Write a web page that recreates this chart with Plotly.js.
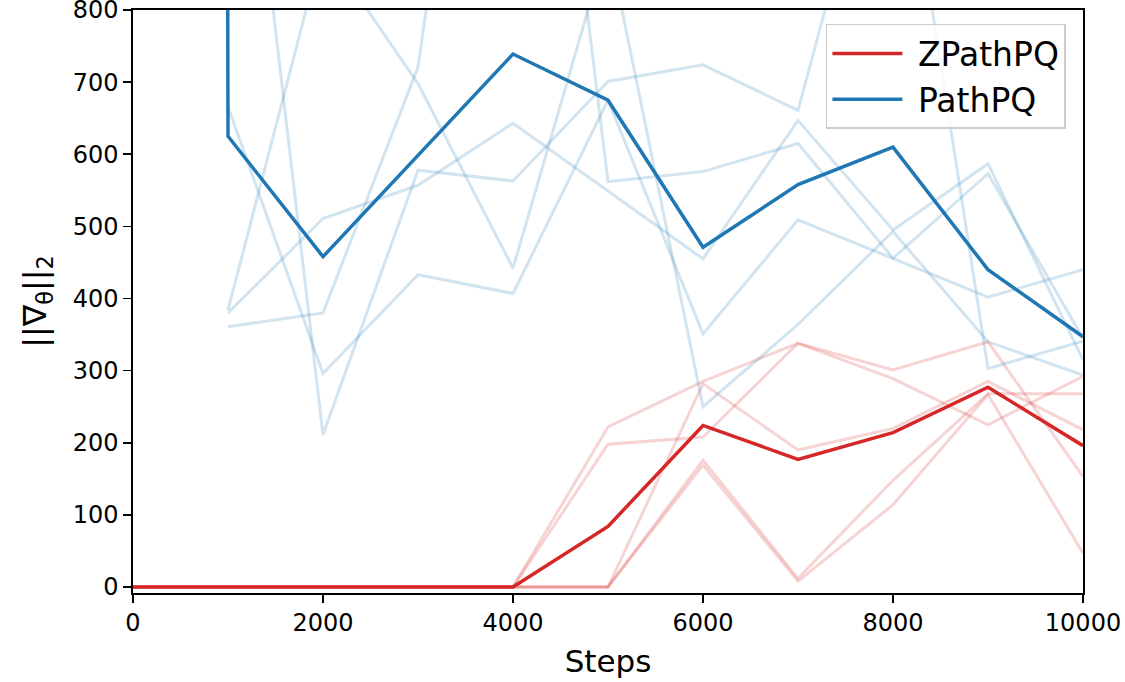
<!DOCTYPE html>
<html>
<head>
<meta charset="utf-8">
<script src="https://cdn.plot.ly/plotly-3.0.1.min.js"></script>
<style>
  html, body { margin: 0; padding: 0; background: #fff; }
  #chart { width: 1125px; height: 682px; }
</style>
</head>
<body>
<div id="chart"></div>
<script>
// training steps
const steps = [0, 1000, 2000, 3000, 4000, 5000, 6000, 7000, 8000, 9000, 10000];
const pathSteps = [1000, 2000, 3000, 4000, 5000, 6000, 7000, 8000, 9000, 10000];
const xTicks = [0, 2000, 4000, 6000, 8000, 10000];
const xTickText = ['0', '2000', '4000', '6000', '8000', '10000'];
const yTicks = [0, 100, 200, 300, 400, 500, 600, 700, 800];

// ZPathPQ: mean and the individual runs
const zpathMean = [0, 0, 0, 0, 0, 84, 224, 177, 214, 277, 196];
const zpathRun1 = [0, 0, 0, 0, 0, 222, 285, 338, 301, 340, 153];
const zpathRun2 = [0, 0, 0, 0, 0, 198, 208, 338, 289, 225, 292];
const zpathRun3 = [0, 0, 0, 0, 0, 0, 282, 190, 220, 285, 218];
const zpathRun4 = [0, 0, 0, 0, 0, 0, 176, 12, 148, 268, 268];
const zpathRun5 = [0, 0, 0, 0, 0, 0, 169, 8, 114, 267, 47];

// PathPQ: mean (huge at step 0) and the individual runs (from step 1000)
const pathMean = [60000, 625, 458, 598, 739, 675, 471, 558, 610, 440, 347];
const pathRun1 = [1334, 211, 578, 563, 701, 724, 661, 1150, 303, 341];
const pathRun2 = [666, 296, 433, 407, 675, 351, 509, 456, 402, 440];
const pathRun3 = [384, 890, 698, 442, 895, 250, 364, 493, 340, 294];
const pathRun4 = [380, 511, 557, 643, 549, 455, 647, 495, 587, 315];
const pathRun5 = [361, 380, 721, 1640, 562, 576, 615, 456, 573, 345];

const red = '#d62728';
const blue = '#1f77b4';

function faint(x, y, color) {
    return {
        x: x, y: y,
        type: 'scatter', mode: 'lines',
        line: { color: color, width: 3 },
        opacity: 0.2,
        showlegend: false,
        hoverinfo: 'skip'
    };
}

const traces = [];
[zpathRun1, zpathRun2, zpathRun3, zpathRun4, zpathRun5].forEach(r => traces.push(faint(steps, r, red)));
[pathRun1, pathRun2, pathRun3, pathRun4, pathRun5].forEach(r => traces.push(faint(pathSteps, r, blue)));

traces.push({
    x: steps, y: zpathMean,
    type: 'scatter', mode: 'lines',
    name: '\u00a0ZPathPQ',
    line: { color: red, width: 3.5 }
});
traces.push({
    x: steps, y: pathMean,
    type: 'scatter', mode: 'lines',
    name: '\u00a0PathPQ',
    line: { color: blue, width: 3.5 }
});

const axisCommon = {
    showline: true,
    linecolor: '#000',
    linewidth: 1.6,
    mirror: true,
    ticks: 'outside',
    ticklen: 8,
    tickwidth: 1.6,
    tickcolor: '#000',
    showgrid: false,
    zeroline: false,
    ticklabeloverflow: 'allow',
    tickfont: { size: 24, color: '#000' }
};

const layout = {
    width: 1125,
    height: 682,
    margin: { l: 133, r: 42, t: 10, b: 89 },
    paper_bgcolor: '#fff',
    plot_bgcolor: '#fff',
    font: { family: 'DejaVu Sans, sans-serif', color: '#000' },
    xaxis: Object.assign({}, axisCommon, {
        range: [0, 10000],
        tickvals: xTicks,
        ticktext: xTickText,
        title: { text: 'Steps', font: { size: 31 }, standoff: 14 }
    }),
    yaxis: Object.assign({}, axisCommon, {
        range: [-8.3, 800.05],
        tickvals: yTicks,
        title: { text: '||∇<sub>θ</sub>||<sub>2</sub>', font: { size: 32 }, standoff: 16 }
    }),
    legend: {
        x: 0.982, y: 0.976,
        xanchor: 'right', yanchor: 'top',
        bgcolor: 'rgba(255,255,255,0.8)',
        bordercolor: '#cccccc',
        borderwidth: 1.5,
        font: { size: 33 },
        itemwidth: 70
    },
    showlegend: true
};

Plotly.newPlot('chart', traces, layout, { displayModeBar: false, staticPlot: true });
</script>
</body>
</html>
